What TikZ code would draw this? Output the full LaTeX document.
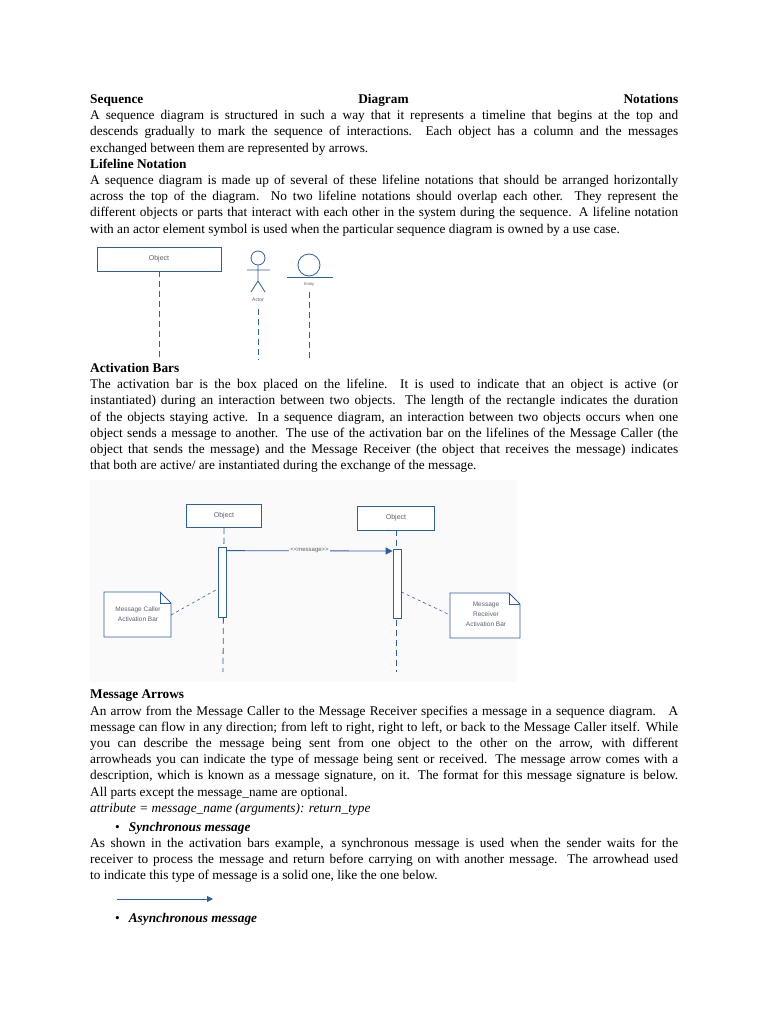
\documentclass[tikz,border=0pt]{standalone}
\usepackage{fontspec}
\setmainfont{Liberation Serif}
\newfontfamily\diagfont{Liberation Sans}
\usetikzlibrary{arrows.meta}
\definecolor{umlblue}{HTML}{2D5EA8}
\definecolor{umltext}{HTML}{5A6070}
\newcommand{\para}[1]{\parbox[t]{588pt}{\fontsize{13.3}{16.2}\selectfont #1}}
\begin{document}
\begin{tikzpicture}[x=1pt,y=-1pt,
    txt/.style={anchor=north west,inner sep=0pt},
    obj/.style={draw=umlblue,thick,fill=white,font=\diagfont\fontsize{7}{8}\selectfont,text=umltext},
    life/.style={umlblue,thick,dash pattern=on 6pt off 4pt},
    bar/.style={draw=umlblue,thick,fill=white},
    note/.style={draw=umlblue,thick,fill=white},
    link/.style={umlblue,semithick,dashed},
    small/.style={font=\diagfont\fontsize{5}{6}\selectfont,text=umltext,inner sep=0pt}]
  \useasboundingbox (0,0) rectangle (768,1024);
  \fill[white] (0,0) rectangle (768,1024);

  % text blocks
  \node[txt] (h1) at (90,94) {\para{\textbf{Sequence Diagram Notations}\linebreak
    A sequence diagram is structured in such a way that it represents a timeline that begins at the top and\linebreak
    descends gradually to mark the sequence of interactions. Each object has a column and the messages\linebreak
    exchanged between them are represented by arrows.\\
    \textbf{Lifeline Notation}\\
    A sequence diagram is made up of several of these lifeline notations that should be arranged horizontally\linebreak
    across the top of the diagram. No two lifeline notations should overlap each other. They represent the\linebreak
    different objects or parts that interact with each other in the system during the sequence. A lifeline notation\linebreak
    with an actor element symbol is used when the particular sequence diagram is owned by a use case.}};

  \node[txt] (h2) at (90,363) {\para{\textbf{Activation Bars}\\
    The activation bar is the box placed on the lifeline.\ \ It is used to indicate that an object is active (or\linebreak
    instantiated) during an interaction between two objects. The length of the rectangle indicates the duration\linebreak
    of the objects staying active. In a sequence diagram, an interaction between two objects occurs when one\linebreak
    object sends a message to another. The use of the activation bar on the lifelines of the Message Caller (the\linebreak
    object that sends the message) and the Message Receiver (the object that receives the message) indicates\linebreak
    that both are active/ are instantiated during the exchange of the message.}};

  \node[txt] (h3) at (90,690) {\para{\textbf{Message Arrows}\\
    An arrow from the Message Caller to the Message Receiver specifies a message in a sequence diagram.\ \ \ A\linebreak
    message can flow in any direction; from left to right, right to left, or back to the Message Caller itself. While\linebreak
    you can describe the message being sent from one object to the other on the arrow, with different\linebreak
    arrowheads you can indicate the type of message being sent or received. The message arrow comes with a\linebreak
    description, which is known as a message signature, on it. The format for this message signature is below.\linebreak
    All parts except the message\_name are optional.\\
    \textit{attribute = message\_name (arguments): return\_type}}};

  \node[txt] (b1) at (115,822) {\fontsize{13.3}{16.2}\selectfont\textbullet\hspace{9pt}\textbf{\textit{Synchronous message}}};
  \node[txt] (h4) at (90,838) {\para{As shown in the activation bars example, a synchronous message is used when the sender waits for the\linebreak
    receiver to process the message and return before carrying on with another message.\ \ The arrowhead used\linebreak
    to indicate this type of message is a solid one, like the one below.}};
  \node[txt] (b2) at (115,913) {\fontsize{13.3}{16.2}\selectfont\textbullet\hspace{9pt}\textbf{\textit{Asynchronous message}}};

  % lifeline notation
  \node[obj,minimum width=124pt,minimum height=24pt] (o1) at (159,259) {Object};
  \coordinate (o1end) at (159,360);
  \draw[life] (o1.south) -- (o1end);
  \draw[umlblue,thick] (258,258) circle (7pt);
  \coordinate (neck) at (258,265);
  \coordinate (hip) at (258,281);
  \draw[umlblue,thick] (neck) -- (hip) (247,270) -- (270,270)
    (251,292) -- (hip) -- (265,292);
  \node[small] (actor) at (258,300) {Actor};
  \coordinate (actend) at (258,360);
  \draw[life] (258,309) -- (actend);
  \draw[umlblue,thick] (309,265) circle (11pt);
  \draw[umlblue,thick] (287,277) -- (333,277);
  \node[small,font=\diagfont\fontsize{4}{5}\selectfont] (entity) at (309,284) {Entity};
  \draw[life] (309,292) -- (309,360);

  % activation bars
  \fill[gray!4] (90,480) rectangle (517,682);
  \node[obj,minimum width=75pt,minimum height=23pt] (c1) at (224,516) {Object};
  \node[obj,minimum width=77pt,minimum height=24pt] (c2) at (396,518) {Object};
  \coordinate (c1end) at (223,672);
  \coordinate (c2end) at (396,672);
  \draw[life] (c1.south) -- (c1end);
  \draw[life] (c2.south) -- (c2end);
  \node[bar,minimum width=8pt,minimum height=70pt,inner sep=0pt] (a1) at (222,582) {};
  \node[bar,minimum width=8pt,minimum height=69pt,inner sep=0pt] (a2) at (397,584) {};
  \draw[umlblue,thick,-{Triangle[length=7pt,width=7pt]}] (a1.north east) ++(0,4) -- (a2.north west |- 0,551)
    node[midway,fill=gray!4,font=\diagfont\fontsize{6}{7}\selectfont,text=umltext,inner sep=1pt] (msg) {<{}<message>{}>};
  \draw[note] (104,592) -- (160,592) -- (171,603) -- (171,637) -- (104,637) -- cycle;
  \draw[umlblue,thick] (160,592) -- (160,603) -- (171,603);
  \node[font=\diagfont\fontsize{6.5}{10}\selectfont,text=umltext,align=center] (n1) at (138,614) {Message Caller\\Activation Bar};
  \draw[note] (450,593) -- (509,593) -- (520,604) -- (520,638) -- (450,638) -- cycle;
  \draw[umlblue,thick] (509,593) -- (509,604) -- (520,604);
  \node[font=\diagfont\fontsize{6.5}{10}\selectfont,text=umltext,align=center] (n2) at (486,614) {Message\\Receiver\\Activation Bar};
  \draw[link] (171,615) -- (a1.west |- 0,589);
  \draw[link] (a2.east |- 0,592) -- (450,615);

  % synchronous arrow
  \coordinate (s0) at (117,899);
  \coordinate (s1) at (213,899);
  \draw[umlblue,thick,-{Triangle[length=6pt,width=6pt]}] (s0) -- (s1);
\end{tikzpicture}
\end{document}
